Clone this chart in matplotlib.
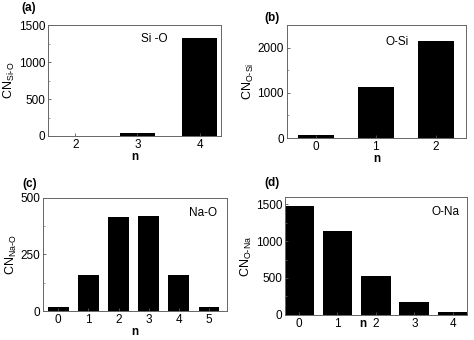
import numpy as np
import matplotlib
matplotlib.use('Agg')
import matplotlib.pyplot as plt
from matplotlib.ticker import AutoMinorLocator

plt.rcParams['font.family'] = ['Liberation Sans', 'DejaVu Sans']

# coordination number distributions
n_sio = [2, 3, 4]
cn_sio = [5, 45, 1325]

n_osi = [0, 1, 2]
cn_osi = [67, 1135, 2150]

n_nao = [0, 1, 2, 3, 4, 5]
cn_nao = [19, 161, 415, 418, 161, 16]

n_ona = [0, 1, 2, 3, 4]
cn_ona = [1478, 1140, 532, 180, 36]

panels = [
    # x, y, note, ylabel sub, ylim, yticks, xlim, bar width, axes rect, tag, tag pos, note pos, xlabel pos
    (n_sio, cn_sio, 'Si -O', r'Si\text{-}O', (0, 1500), [0, 500, 1000, 1500], (1.56, 4.34), 0.56,
     [0.101, 0.600, 0.365, 0.326], '(a)', (0.046, 0.995), (0.69, 0.93), None),
    (n_osi, cn_osi, 'O-Si', r'O\text{-}Si', (0, 2500), [0, 1000, 2000], (-0.48, 2.5), 0.6,
     [0.605, 0.594, 0.378, 0.332], '(b)', (0.557, 0.965), (0.68, 0.9), None),
    (n_nao, cn_nao, 'Na-O', r'Na\text{-}O', (0, 500), [0, 250, 500], (-0.5, 5.6), 0.69,
     [0.091, 0.085, 0.388, 0.333], '(c)', (0.048, 0.475), (0.945, 0.92), None),
    (n_ona, cn_ona, 'O-Na', r'O\text{-}Na', (0, 1600), [0, 500, 1000, 1500], (-0.37, 4.37), 0.78,
     [0.601, 0.074, 0.384, 0.347], '(d)', (0.557, 0.48), (0.96, 0.92), (0.43, -0.03)),
]

fig = plt.figure(figsize=(4.74, 3.40), dpi=100)
fs = 8.5

for x, y, note, sub, ylim, yt, xlim, w, rect, tag, tpos, npos, xlpos in panels:
    ax = fig.add_axes(rect)
    ax.bar(x, y, width=w, color='black')
    ax.set_xlim(*xlim)
    ax.set_ylim(*ylim)
    ax.set_xticks(x)
    ax.set_yticks(yt)
    ax.yaxis.set_minor_locator(AutoMinorLocator(2))
    ax.tick_params(direction='in', length=2.5, width=0.6, color='#555555',
                   labelsize=fs, pad=2)
    ax.tick_params(which='minor', direction='in', length=1.5, width=0.5, color='#777777')
    for s in ax.spines.values():
        s.set_color('#666666')
        s.set_linewidth(0.7)
    ax.set_xlabel('n', fontsize=fs, fontweight='bold', labelpad=0)
    if xlpos is not None:
        ax.xaxis.set_label_coords(*xlpos)
        ax.xaxis.label.set_va('top')
    ax.set_ylabel(r'CN$_{\mathregular{%s}}$' % sub, fontsize=fs + 0.5, labelpad=1)
    ax.text(npos[0], npos[1], note, transform=ax.transAxes, ha='right', va='top', fontsize=fs)
    fig.text(tpos[0], tpos[1], tag, ha='left', va='top', fontsize=fs, fontweight='bold')

fig.savefig('out.png', dpi=100)
